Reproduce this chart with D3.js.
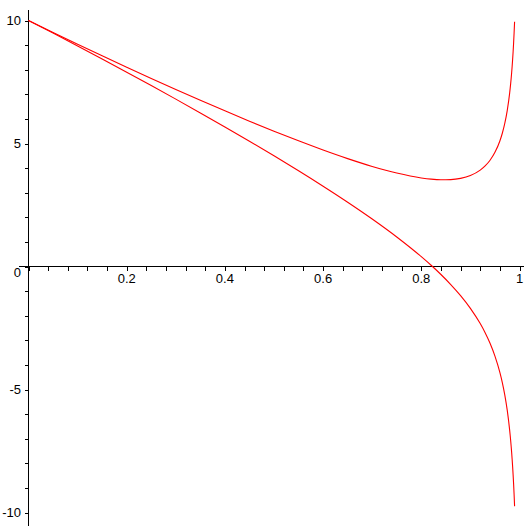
<!DOCTYPE html>
<html>
<head>
<meta charset="utf-8">
<script src="https://cdn.jsdelivr.net/npm/d3@7"></script>
<style>
html,body{margin:0;padding:0;background:#fff;}
svg{display:block;}
text{font-family:"Liberation Sans",Arial,sans-serif;font-size:13px;fill:#000;}
</style>
</head>
<body>
<svg id="chart" width="528" height="528"></svg>
<script>
// Data (sample points along each curve)
const xs = [0, 0.05, 0.1, 0.15, 0.2, 0.25, 0.3, 0.35, 0.4, 0.45, 0.5, 0.55, 0.6, 0.65, 0.7, 0.75, 0.8, 0.82, 0.84, 0.86, 0.88, 0.9, 0.92, 0.93, 0.94, 0.95, 0.96, 0.965, 0.97, 0.975, 0.98, 0.981, 0.982, 0.983, 0.984, 0.985, 0.986, 0.987, 0.988, 0.989, 0.99];
const upperY = [10, 9.511, 9.033, 8.563, 8.1, 7.644, 7.196, 6.757, 6.327, 5.907, 5.5, 5.108, 4.735, 4.386, 4.069, 3.799, 3.6, 3.550, 3.525, 3.532, 3.583, 3.7, 3.920, 4.090, 4.321, 4.641, 5.103, 5.417, 5.816, 6.339, 7.06, 7.239, 7.433, 7.645, 7.877, 8.132, 8.415, 8.730, 9.085, 9.488, 9.950];
const lowerY = [10, 9.489, 8.967, 8.437, 7.9, 7.356, 6.804, 6.243, 5.673, 5.093, 4.5, 3.892, 3.265, 2.614, 1.931, 1.201, 0.4, 0.050, -0.325, -0.732, -1.183, -1.7, -2.320, -2.690, -3.121, -3.641, -4.303, -4.717, -5.216, -5.839, -6.66, -6.859, -7.073, -7.305, -7.557, -7.832, -8.135, -8.470, -8.845, -9.268, -9.750];
const xTickLabels = ["0.2", "0.4", "0.6", "0.8", "1"];
const xTickValues = [0.2, 0.4, 0.6, 0.8, 1];
const yTickLabels = ["-10", "-5", "5", "10"];
const yTickValues = [-10, -5, 5, 10];

const svg = d3.select("#chart");
const x = d3.scaleLinear().domain([0, 1]).range([28.5, 519.5]);
const y = d3.scaleLinear().domain([-10, 10]).range([512.5, 20.5]);

// axis lines
svg.append("line").attr("x1", 19).attr("x2", 524).attr("y1", y(0)).attr("y2", y(0))
  .attr("stroke", "#000").attr("stroke-width", 1).attr("shape-rendering", "crispEdges");
svg.append("line").attr("x1", x(0)).attr("x2", x(0)).attr("y1", 10).attr("y2", 526)
  .attr("stroke", "#000").attr("stroke-width", 1).attr("shape-rendering", "crispEdges");

// x ticks (minor every 0.04)
const xMinor = d3.range(0, 1.0001, 0.04);
const xAxis = d3.axisBottom(x).tickValues(xMinor).tickSize(4).tickFormat("");
const gx = svg.append("g").attr("transform", `translate(0,${y(0)})`).call(xAxis);
gx.select(".domain").remove();
gx.selectAll("line").attr("stroke", "#000").attr("shape-rendering", "crispEdges");
svg.selectAll(".xlab").data(xTickValues).enter().append("text")
  .attr("class", "xlab")
  .attr("x", d => x(d)).attr("y", y(0) + 16)
  .attr("text-anchor", "middle")
  .text((d, i) => xTickLabels[i]);

// y ticks (minor every 1)
const yMinor = d3.range(-10, 10.001, 1);
const yAxis = d3.axisLeft(y).tickValues(yMinor).tickSize(4).tickFormat("");
const gy = svg.append("g").attr("transform", `translate(${x(0)},0)`).call(yAxis);
gy.select(".domain").remove();
gy.selectAll("line").attr("stroke", "#000").attr("shape-rendering", "crispEdges");
svg.selectAll(".ylab").data(yTickValues).enter().append("text")
  .attr("class", "ylab")
  .attr("x", 21).attr("y", d => y(d) + 4.5)
  .attr("text-anchor", "end")
  .text((d, i) => yTickLabels[i]);
svg.append("text").attr("x", 21).attr("y", y(0) + 10.5).attr("text-anchor", "end").text("0");

// curves
const line = d3.line().x(d => x(d[0])).y(d => y(d[1])).curve(d3.curveMonotoneX);
const upper = xs.map((v, i) => [v, upperY[i]]);
const lower = xs.map((v, i) => [v, lowerY[i]]);
[upper, lower].forEach(pts => {
  svg.append("path").datum(pts).attr("d", line)
    .attr("fill", "none").attr("stroke", "#ff0000").attr("stroke-width", 1.1);
});
</script>
</body>
</html>
